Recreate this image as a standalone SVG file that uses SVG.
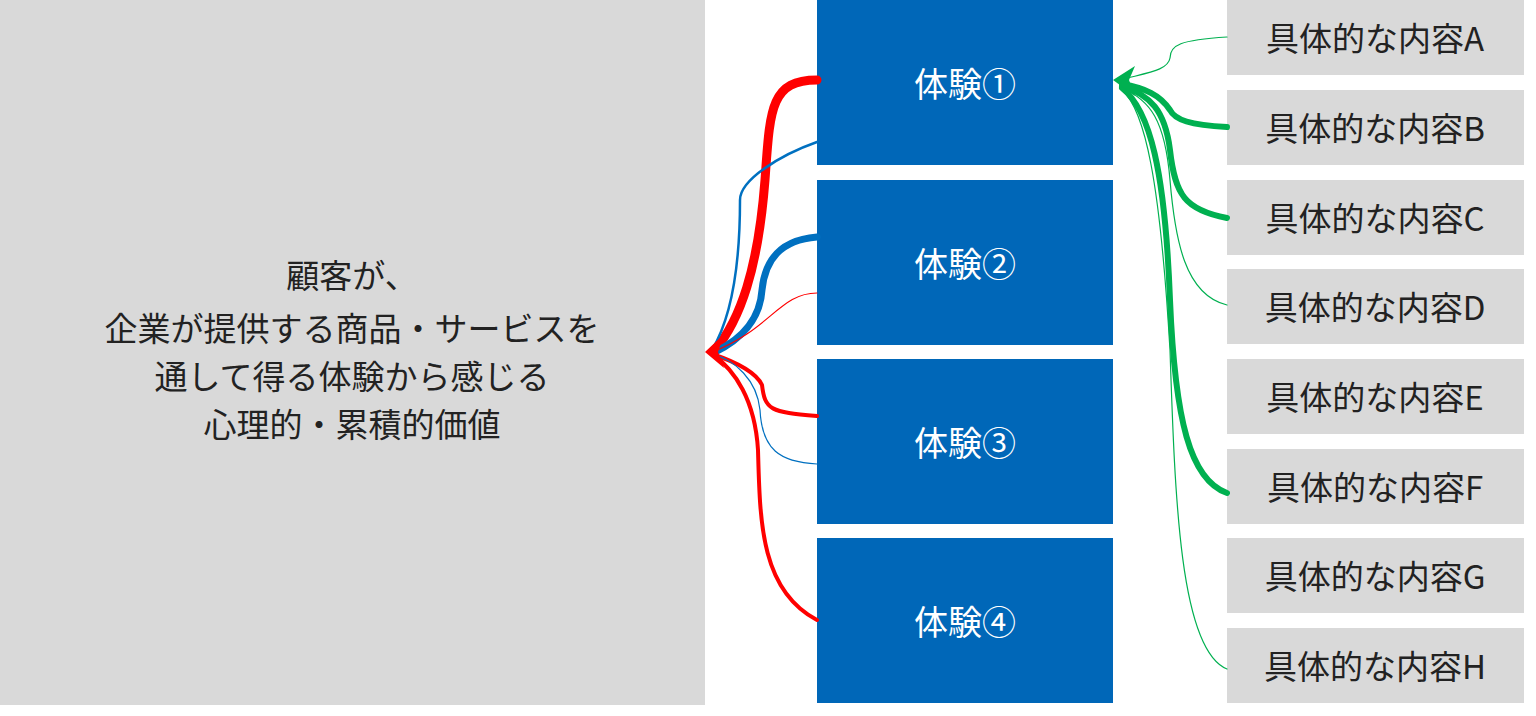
<svg xmlns="http://www.w3.org/2000/svg" width="1536" height="716" viewBox="0 0 1536 716">
<defs>
<style>
text{font-family:"Noto Sans CJK JP","Noto Sans",sans-serif;text-anchor:middle;dominant-baseline:central}
.b{fill:#0067B8}.g{fill:#D9D9D9}
.bt{fill:#fff;font-size:34px}.gt{fill:#222;font-size:33px}
.c{fill:none;stroke-linecap:round}
.r{stroke:#FF0000}.bl{stroke:#0070C0}.gr{stroke:#00B050}
</style>
<marker id="ar" viewBox="0 0 10 10" refX="1" refY="5" markerWidth="5" markerHeight="5" markerUnits="userSpaceOnUse" orient="auto"><path d="M0 5L10 0L7 5L10 10Z" fill="#FF0000"/></marker>
</defs>
<rect width="1536" height="716" fill="#fff"/>
<g id="main"><rect class="g" x="0" y="0" width="705" height="705"/>
<text class="gt" x="352" y="274">顧客が、</text>
<text class="gt" x="352" y="327">企業が提供する商品・サービスを</text>
<text class="gt" x="352" y="375">通して得る体験から感じる</text>
<text class="gt" x="352" y="423">心理的・累積的価値</text></g>
<g id="e1"><rect class="b" x="817" y="0" width="296" height="165"/><text class="bt" x="965" y="82">体験①</text></g>
<g id="e2"><rect class="b" x="817" y="180" width="296" height="165"/><text class="bt" x="965" y="262">体験②</text></g>
<g id="e3"><rect class="b" x="817" y="359" width="296" height="165"/><text class="bt" x="965" y="441">体験③</text></g>
<g id="e4"><rect class="b" x="817" y="538" width="296" height="165"/><text class="bt" x="965" y="620">体験④</text></g>
<g id="cA"><rect class="g" x="1227" y="0" width="297" height="75"/><text class="gt" x="1375" y="37">具体的な内容A</text></g>
<g id="cB"><rect class="g" x="1227" y="90" width="297" height="75"/><text class="gt" x="1375" y="127">具体的な内容B</text></g>
<g id="cC"><rect class="g" x="1227" y="180" width="297" height="75"/><text class="gt" x="1375" y="217">具体的な内容C</text></g>
<g id="cD"><rect class="g" x="1227" y="269" width="297" height="75"/><text class="gt" x="1375" y="306">具体的な内容D</text></g>
<g id="cE"><rect class="g" x="1227" y="359" width="297" height="75"/><text class="gt" x="1375" y="396">具体的な内容E</text></g>
<g id="cF"><rect class="g" x="1227" y="449" width="297" height="75"/><text class="gt" x="1375" y="486">具体的な内容F</text></g>
<g id="cG"><rect class="g" x="1227" y="538" width="297" height="75"/><text class="gt" x="1375" y="575">具体的な内容G</text></g>
<g id="cH"><rect class="g" x="1227" y="628" width="297" height="75"/><text class="gt" x="1375" y="665">具体的な内容H</text></g>
<g id="connectors">
<path class="c r" stroke-width="9" d="M817 80C770 80 770 110 765 180C758 270 740 320 715 350"/>
<path class="c bl" stroke-width="2.5" d="M817 142C780 155 740 180 740 200C740 270 730 320 712 350"/>
<path class="c bl" stroke-width="7" d="M817 237C780 240 765 260 762 290C760 320 740 340 715 352"/>
<path class="c r" stroke-width="1.2" d="M817 293C780 293 770 330 712 352"/>
<path class="c r" stroke-width="4" d="M817 416C770 412 765 410 762 385C755 370 730 360 712 354"/>
<path class="c bl" stroke-width="1.2" d="M817 464C780 462 762 450 760 410C757 380 735 360 712 354"/>
<path class="c r" stroke-width="4" d="M817 620C760 590 760 520 758 450C755 400 735 370 712 354"/>
<path d="M705 352L724 334L718 352L724 368Z" fill="#FF0000"/>
<path class="c gr" stroke-width="1.2" d="M1227 37C1180 40 1170 45 1170 58C1168 70 1150 72 1120 80"/>
<path class="c gr" stroke-width="6" d="M1227 127C1190 125 1175 120 1170 110C1160 95 1145 88 1122 84"/>
<path class="c gr" stroke-width="6" d="M1227 218C1185 210 1175 195 1170 150C1165 110 1150 95 1122 86"/>
<path class="c gr" stroke-width="1.2" d="M1227 305C1185 295 1175 240 1170 180C1165 120 1150 100 1122 88"/>
<path class="c gr" stroke-width="6" d="M1227 493C1190 480 1175 420 1170 300C1165 170 1150 110 1122 88"/>
<path class="c gr" stroke-width="1.2" d="M1227 669C1180 650 1175 500 1170 350C1160 180 1145 110 1122 90"/>
<path d="M1113 80L1135 66L1129 80L1135 96Z" fill="#00B050"/>
</g>
</svg>
